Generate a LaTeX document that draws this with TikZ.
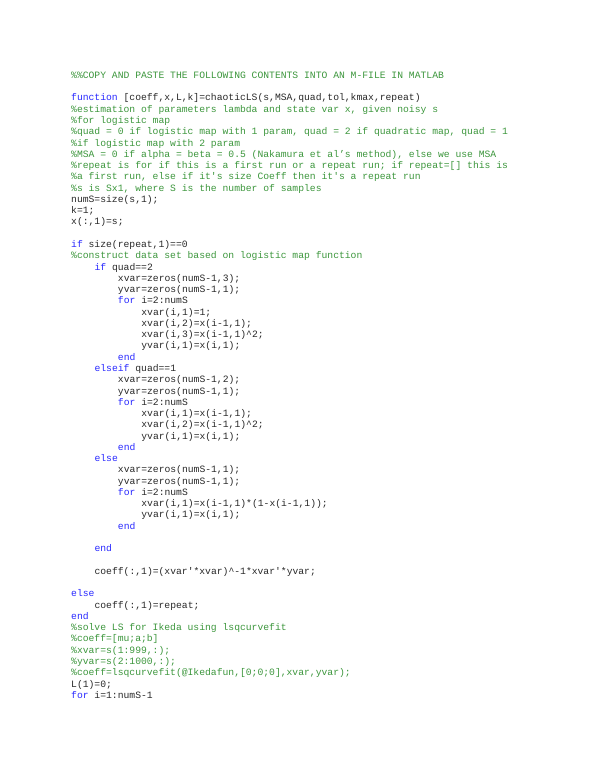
\documentclass[tikz,border=0pt]{standalone}
\usepackage{fontspec}
\setmonofont{Liberation Mono}
\definecolor{kwc}{RGB}{40,40,255}
\definecolor{cmc}{RGB}{60,150,60}
\definecolor{txc}{RGB}{40,40,40}
\newcommand{\kw}[1]{\textcolor{kwc}{#1}}
\newcommand{\cm}[1]{\textcolor{cmc}{#1}}
\newcommand{\crt}{\textasciicircum}
\newcommand{\CL}[3]{\node[codeline] (l#1) at ({71+#2*23.4},{76+#1*11.27}) {#3};}
\begin{document}
\begin{tikzpicture}[x=1.02pt,y=-1.02pt,
  codeline/.style={anchor=west,inner sep=0pt,text height=7pt,text depth=2pt,font=\ttfamily\fontsize{9.9}{11}\selectfont,text=txc}]
\useasboundingbox (0,0) rectangle (600,776);
\CL{0}{0}{\cm{\%\%COPY AND PASTE THE FOLLOWING CONTENTS INTO AN M-FILE IN MATLAB}}
\CL{2}{0}{\kw{function} [coeff,x,L,k]=chaoticLS(s,MSA,quad,tol,kmax,repeat)}
\CL{3}{0}{\cm{\%estimation of parameters lambda and state var x, given noisy s}}
\CL{4}{0}{\cm{\%for logistic map}}
\CL{5}{0}{\cm{\%quad = 0 if logistic map with 1 param, quad = 2 if quadratic map, quad = 1}}
\CL{6}{0}{\cm{\%if logistic map with 2 param}}
\CL{7}{0}{\cm{\%MSA = 0 if alpha = beta = 0.5 (Nakamura et al’s method), else we use MSA}}
\CL{8}{0}{\cm{\%repeat is for if this is a first run or a repeat run; if repeat=[] this is}}
\CL{9}{0}{\cm{\%a first run, else if it's size Coeff then it's a repeat run}}
\CL{10}{0}{\cm{\%s is Sx1, where S is the number of samples}}
\CL{11}{0}{numS=size(s,1);}
\CL{12}{0}{k=1;}
\CL{13}{0}{x(:,1)=s;}
\CL{15}{0}{\kw{if} size(repeat,1)==0}
\CL{16}{0}{\cm{\%construct data set based on logistic map function}}
\CL{17}{1}{\kw{if} quad==2}
\CL{18}{2}{xvar=zeros(numS-1,3);}
\CL{19}{2}{yvar=zeros(numS-1,1);}
\CL{20}{2}{\kw{for} i=2:numS}
\CL{21}{3}{xvar(i,1)=1;}
\CL{22}{3}{xvar(i,2)=x(i-1,1);}
\CL{23}{3}{xvar(i,3)=x(i-1,1)\crt2;}
\CL{24}{3}{yvar(i,1)=x(i,1);}
\CL{25}{2}{\kw{end}}
\CL{26}{1}{\kw{elseif} quad==1}
\CL{27}{2}{xvar=zeros(numS-1,2);}
\CL{28}{2}{yvar=zeros(numS-1,1);}
\CL{29}{2}{\kw{for} i=2:numS}
\CL{30}{3}{xvar(i,1)=x(i-1,1);}
\CL{31}{3}{xvar(i,2)=x(i-1,1)\crt2;}
\CL{32}{3}{yvar(i,1)=x(i,1);}
\CL{33}{2}{\kw{end}}
\CL{34}{1}{\kw{else}}
\CL{35}{2}{xvar=zeros(numS-1,1);}
\CL{36}{2}{yvar=zeros(numS-1,1);}
\CL{37}{2}{\kw{for} i=2:numS}
\CL{38}{3}{xvar(i,1)=x(i-1,1)*(1-x(i-1,1));}
\CL{39}{3}{yvar(i,1)=x(i,1);}
\CL{40}{2}{\kw{end}}
\CL{42}{1}{\kw{end}}
\CL{44}{1}{coeff(:,1)=(xvar'*xvar)\crt-1*xvar'*yvar;}
\CL{46}{0}{\kw{else}}
\CL{47}{1}{coeff(:,1)=repeat;}
\CL{48}{0}{\kw{end}}
\CL{49}{0}{\cm{\%solve LS for Ikeda using lsqcurvefit}}
\CL{50}{0}{\cm{\%coeff=[mu;a;b]}}
\CL{51}{0}{\cm{\%xvar=s(1:999,:);}}
\CL{52}{0}{\cm{\%yvar=s(2:1000,:);}}
\CL{53}{0}{\cm{\%coeff=lsqcurvefit(@Ikedafun,[0;0;0],xvar,yvar);}}
\CL{54}{0}{L(1)=0;}
\CL{55}{0}{\kw{for} i=1:numS-1}
\end{tikzpicture}
\end{document}
